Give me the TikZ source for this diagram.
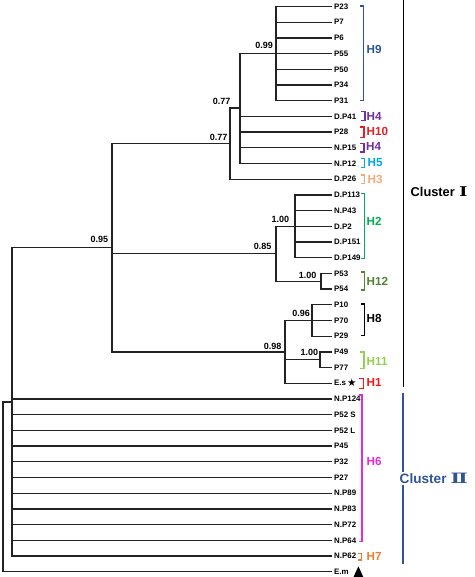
\documentclass[tikz,border=0pt]{standalone}
\usepackage{fontspec}
\usepackage{graphicx}
\setmainfont{Liberation Sans}
\newfontfamily\dejavu{DejaVu Sans}
\newfontfamily\dvserif{DejaVu Serif}
\definecolor{treeline}{RGB}{35,35,35}
\definecolor{hnine}{RGB}{47,85,151}
\definecolor{hfour}{RGB}{112,48,160}
\definecolor{hten}{RGB}{228,30,38}
\definecolor{hfive}{RGB}{0,168,232}
\definecolor{hthree}{RGB}{244,170,120}
\definecolor{htwo}{RGB}{0,176,80}
\definecolor{htwelve}{RGB}{84,130,53}
\definecolor{heleven}{RGB}{146,208,80}
\definecolor{hone}{RGB}{255,20,20}
\definecolor{hsix}{RGB}{232,40,220}
\definecolor{hseven}{RGB}{237,125,49}
\definecolor{cltwo}{RGB}{47,85,151}
\begin{document}
\begin{tikzpicture}[x=1pt,y=-1pt,
  br/.style={line width=1.35pt,treeline,line cap=rect},
  leaf/.style={anchor=west,inner sep=0pt,font=\bfseries\fontsize{7.9}{8}\selectfont},
  bs/.style={anchor=base east,inner sep=0pt,font=\bfseries\fontsize{9}{9}\selectfont},
  hl/.style={anchor=west,inner sep=0pt,font=\bfseries\fontsize{11.7}{12}\selectfont},
  bracket/.style={line width=1.1pt}]
\useasboundingbox (0,0) rectangle (474,577);
% leaves
\foreach \t [count=\i from 0] in {P23,P7,P6,P55,P50,P34,P31,D.P41,P28,N.P15,N.P12,D.P26,D.P113,N.P43,D.P2,D.P151,D.P149,P53,P54,P10,P70,P29,P49,P77,E.s,N.P124,P52 S,P52 L,P45,P32,P27,N.P89,N.P83,N.P72,N.P64,N.P62,E.m}{
  \pgfmathsetmacro\yy{6.5+15.7*\i}
  \node[leaf] (l\i) at (334,\yy) {\t};
  \coordinate (e\i) at (331,\yy);
}
% internal nodes
\coordinate (n099) at (276,53.6);
\coordinate (n77a) at (240,108);
\coordinate (n77b) at (230,143.6);
\coordinate (n100a) at (295,226.3);
\coordinate (n100b) at (321,281.25);
\coordinate (n085) at (276,253.8);
\coordinate (n096) at (312,320.5);
\coordinate (n100c) at (320,359.75);
\coordinate (n098) at (285,351.9);
\coordinate (n095) at (112,247.75);
\coordinate (nI) at (12,401.9);
\coordinate (root) at (3,401.9);
% connectors
\foreach \i in {0,...,6} \draw[br] (n099) |- (e\i);
\draw[br] (n77a) |- (n099);
\foreach \i in {7,...,10} \draw[br] (n77a) |- (e\i);
\draw[br] (n77b) |- (n77a);
\draw[br] (n77b) |- (e11);
\foreach \i in {12,...,16} \draw[br] (n100a) |- (e\i);
\foreach \i in {17,18} \draw[br] (n100b) |- (e\i);
\draw[br] (n085) |- (n100a);
\draw[br] (n085) |- (n100b);
\foreach \i in {19,20,21} \draw[br] (n096) |- (e\i);
\foreach \i in {22,23} \draw[br] (n100c) |- (e\i);
\draw[br] (n098) |- (n096);
\draw[br] (n098) |- (n100c);
\draw[br] (n098) |- (e24);
\draw[br] (n095) |- (n77b);
\draw[br] (n095) |- (n085);
\draw[br] (n095) |- (n098);
\draw[br] (nI) |- (n095);
\foreach \i in {25,...,35} \draw[br] (nI) |- (e\i);
\draw[br] (root) -- (nI);
\draw[br] (root) |- (e36);
% bootstrap values
\node[bs] (b099) at (273,48.2) {0.99};
\node[bs] (b77a) at (230.5,104.9) {0.77};
\node[bs] (b77b) at (227.7,140.5) {0.77};
\node[bs] (b095) at (108.3,242.2) {0.95};
\node[bs] (b085) at (271.7,249.9) {0.85};
\node[bs] (b100a) at (289.3,222.5) {1.00};
\node[bs] (b100b) at (316.7,278.9) {1.00};
\node[bs] (b096) at (310,316.5) {0.96};
\node[bs] (b098) at (281.7,349.9) {0.98};
\node[bs] (b100c) at (318.3,355.9) {1.00};
% symbols
\node[anchor=west,inner sep=0pt] (star) at (347,382.6) {\dejavu\fontsize{10.5}{10.5}\selectfont ★};
\fill[black] (353.3,577.5) -- (363.5,577.5) -- (358.4,566.3) -- cycle;
% brackets
\draw[bracket,hnine] (359.5,6) -- (363.5,6) -- (363.5,100.5) -- (359.5,100.5);
\draw[bracket,hfour] (361,111.7) -- (365,111.7) -- (365,120.5) -- (361,120.5);
\draw[bracket,hten] (360,127) -- (364,127) -- (364,137.5) -- (360,137.5);
\draw[bracket,hfour] (360,143.3) -- (364,143.3) -- (364,152) -- (360,152);
\draw[bracket,hfive] (360.5,158.5) -- (364.5,158.5) -- (364.5,167.5) -- (360.5,167.5);
\draw[bracket,hthree] (360.5,175) -- (364.5,175) -- (364.5,183.5) -- (360.5,183.5);
\draw[bracket,htwo] (360.5,193.3) -- (364.5,193.3) -- (364.5,258.3) -- (360.5,258.3);
\draw[bracket,htwelve] (360.5,272) -- (364.5,272) -- (364.5,290) -- (360.5,290);
\draw[bracket,black] (360.5,304) -- (364.5,304) -- (364.5,335.5) -- (360.5,335.5);
\draw[bracket,heleven] (360,352) -- (364,352) -- (364,368.3) -- (360,368.3);
\draw[bracket,hone] (359.3,378.3) -- (363.3,378.3) -- (363.3,388.3) -- (359.3,388.3);
\draw[bracket,hsix] (358.5,395) -- (362,395) -- (362,541.7) -- (358.5,541.7);
\draw[bracket,hseven] (358.3,553.3) -- (361.7,553.3) -- (361.7,560) -- (358.3,560);
% haplotype labels
\node[hl,text=hnine] (H9) at (366.5,49.3) {H9};
\node[hl,text=hfour] (H4a) at (366.5,116) {H4};
\node[hl,text=hten] (H10) at (366.5,131.7) {H10};
\node[hl,text=hfour] (H4b) at (366,146.7) {H4};
\node[hl,text=hfive] (H5) at (367.5,162.3) {H5};
\node[hl,text=hthree] (H3) at (367.5,179.3) {H3};
\node[hl,text=htwo] (H2) at (366.5,221.7) {H2};
\node[hl,text=htwelve] (H12) at (366.5,281.7) {H12};
\node[hl,text=black] (H8) at (366.5,318.3) {H8};
\node[hl,text=heleven] (H11) at (366.5,361) {H11};
\node[hl,text=hone] (H1) at (366.5,382.7) {H1};
\node[hl,text=hsix] (H6) at (366.5,461) {H6};
\node[hl,text=hseven] (H7) at (366.5,556.7) {H7};
% clusters
\coordinate (c1t) at (403.3,0);
\coordinate (c1b) at (403.3,387);
\draw[line width=1.5pt,black] (c1t) -- (c1b);
\node[anchor=west,inner sep=0pt,font=\bfseries\fontsize{12.8}{13}\selectfont] (clI) at (410.5,191.7) {Cluster\hspace{4.5pt}\scalebox{1.35}[1.05]{\dvserif Ⅰ}};
\coordinate (c2t) at (403,393.3);
\coordinate (c2b) at (403,564.3);
\draw[line width=1.5pt,cltwo] (c2t) -- (c2b);
\node[fill=white,inner sep=1pt,anchor=west,text=cltwo,font=\bfseries\fontsize{13.6}{14}\selectfont] (clII) at (398.5,478.3) {Cluster\hspace{4pt}\scalebox{1.5}[1.05]{\dvserif Ⅱ}};
\end{tikzpicture}
\end{document}
